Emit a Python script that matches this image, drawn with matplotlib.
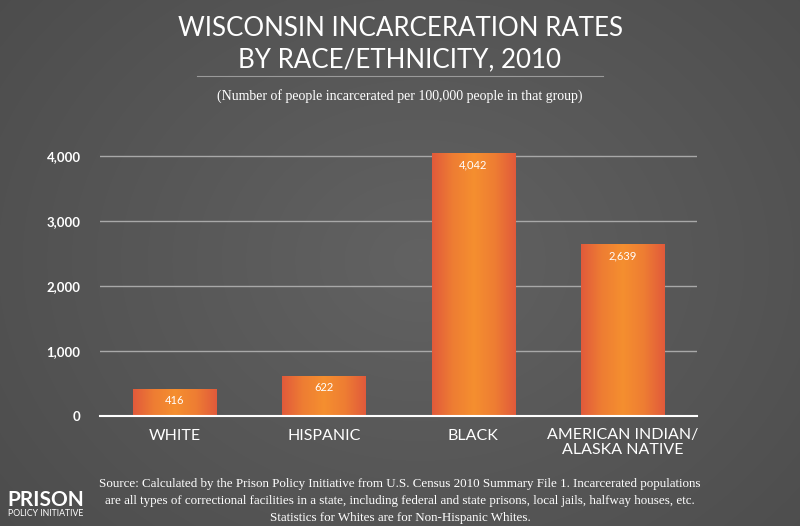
import numpy as np
import matplotlib
matplotlib.use("Agg")
import matplotlib.pyplot as plt
from matplotlib.colors import LinearSegmentedColormap

categories = ["WHITE", "HISPANIC", "BLACK", "AMERICAN INDIAN/\nALASKA NATIVE"]
values = [416, 622, 4042, 2639]
value_labels = ["416", "622", "4,042", "2,639"]
yticks = [0, 1000, 2000, 3000, 4000]
ytick_labels = ["0", "1,000", "2,000", "3,000", "4,000"]

title = "WISCONSIN INCARCERATION RATES\nBY RACE/ETHNICITY, 2010"
subtitle = "(Number of people incarcerated per 100,000 people in that group)"
source = ("Source: Calculated by the Prison Policy Initiative from U.S. Census 2010 Summary File 1. Incarcerated populations\n"
          "are all types of correctional facilities in a state, including federal and state prisons, local jails, halfway houses, etc.\n"
          "Statistics for Whites are for Non-Hispanic Whites.")

fig = plt.figure(figsize=(8, 5.26), dpi=100)

# background radial gradient
bg = fig.add_axes([0, 0, 1, 1], zorder=-10)
yy, xx = np.mgrid[0:526, 0:800]
r = np.sqrt(((xx - 420) / 520.0) ** 2 + ((yy - 260) / 420.0) ** 2)
bgcmap = LinearSegmentedColormap.from_list("bg", ["#626262", "#4b4b4b"])
bg.imshow(r, cmap=bgcmap, vmin=0, vmax=1.1, aspect="auto", extent=(0, 1, 0, 1))
bg.set_axis_off()

ax = fig.add_axes([0.125, 1 - 416 / 526, 597 / 800, (4100 * 0.065) / 526])
ax.patch.set_alpha(0)

x = np.arange(len(categories))
bars = ax.bar(x, values, width=0.557, color="#e9683a", zorder=3)

barcmap = LinearSegmentedColormap.from_list("bar", ["#e15a3b", "#ee7d33", "#f58f2f", "#ee7d33", "#e15a3b"])
grad = np.linspace(0, 1, 256).reshape(1, -1)
for b in bars:
    bx, by = b.get_x(), b.get_y()
    w, h = b.get_width(), b.get_height()
    im = ax.imshow(grad, cmap=barcmap, aspect="auto", extent=(bx, bx + w, by, by + h), zorder=4)
    im.set_clip_path(b)

for xi, v, lab in zip(x, values, value_labels):
    ax.annotate(lab, (xi, v), xytext=(0, -8.5), textcoords="offset points",
                ha="center", va="center", color="white", fontsize=8,
                family="Lato", zorder=6)

ax.set_xlim(-0.5, 3.5)
ax.set_ylim(0, 4100)
ax.set_yticks(yticks)
ax.set_yticklabels(ytick_labels)
for s in ax.spines.values():
    s.set_visible(False)
ax.tick_params(axis="y", length=0, pad=14, labelcolor="white", labelsize=9.5)
for t in ax.get_yticklabels():
    t.set_fontweight("bold")
    t.set_family("Lato")
ax.yaxis.grid(True, color="#a8a8a8", linewidth=1, zorder=1)
ax.axhline(0, color="white", linewidth=1.5, zorder=5, clip_on=False)

ax.set_xticks(x)
ax.set_xticklabels(categories)
ax.tick_params(axis="x", length=0, pad=9, labelcolor="white", labelsize=11.5)
for t in ax.get_xticklabels():
    t.set_family("Lato")
    t.set_linespacing(1.0)
    t.set_va("top")

fig.text(0.5, 1 - 44 / 526, title, ha="center", va="center", color="white",
         fontsize=18.6, family="Lato", linespacing=1.33)
fig.add_artist(plt.Line2D([197 / 800, 603 / 800], [1 - 76 / 526] * 2, color="#9a9a9a", linewidth=0.8))
fig.text(0.5, 1 - 96 / 526, subtitle, ha="center", va="center", color="white",
         fontsize=10, family="Liberation Serif")
fig.text(400 / 800, 1 - 501 / 526, source, ha="center", va="center", color="white",
         fontsize=9.4, family="Liberation Serif", linespacing=1.5)
fig.text(46 / 800, 1 - 500 / 526, "PRISON", ha="center", va="center", color="white",
         fontsize=15, fontweight="bold", family="Lato")
fig.text(46 / 800, 1 - 513 / 526, "POLICY INITIATIVE", ha="center", va="center", color="white",
         fontsize=6.3, family="Lato")

fig.savefig("out.png", dpi=100)
